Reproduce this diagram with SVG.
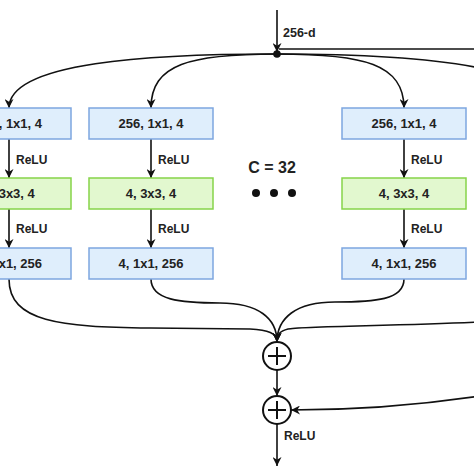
<svg xmlns="http://www.w3.org/2000/svg" width="474" height="474" viewBox="0 0 474 474">
<style>
.blue{fill:#dfeefc;stroke:#7ea6e0;stroke-width:1.5}
.green{fill:#e2f8cf;stroke:#86d44a;stroke-width:1.5}
.t{font-family:"Liberation Sans",Arial,sans-serif;font-weight:bold;font-size:13px;fill:#222;text-anchor:middle}
.l{font-family:"Liberation Sans",Arial,sans-serif;font-weight:bold;font-size:12px;fill:#222}
.c{fill:none;stroke:#111;stroke-width:1.6}
.op{fill:#fff;stroke:#111;stroke-width:2}
</style>
<defs>
<marker id="ah" viewBox="0 0 10 10" refX="10" refY="5" markerWidth="9" markerHeight="9" markerUnits="userSpaceOnUse" orient="auto">
<path d="M0,0 L10,5 L0,10 L3,5 Z" fill="#111"/>
</marker>
</defs>
<g id="connectors">
<path class="c" d="M277 10 V52" marker-end="url(#ah)"/>
<path class="c" d="M279 49 H480"/>
<path class="c" d="M277 54 C150 54 9 62 9 108" marker-end="url(#ah)"/>
<path class="c" d="M277 54 C190 54 151 64 151 108" marker-end="url(#ah)"/>
<path class="c" d="M277 54 C364 54 404 64 404 108" marker-end="url(#ah)"/>
<path class="c" d="M277 54 C360 54 430 58 480 68"/>
<path class="c" d="M9 139 V178" marker-end="url(#ah)"/>
<path class="c" d="M151 139 V178" marker-end="url(#ah)"/>
<path class="c" d="M404 139 V178" marker-end="url(#ah)"/>
<path class="c" d="M9 209 V248" marker-end="url(#ah)"/>
<path class="c" d="M151 209 V248" marker-end="url(#ah)"/>
<path class="c" d="M404 209 V248" marker-end="url(#ah)"/>
<path class="c" d="M9 279 C9 322 60 327 150 328 L250 329 C268 330 277 333 277 342" marker-end="url(#ah)"/>
<path class="c" d="M151 279 C151 300 180 303 220 303 C258 303 277 318 277 342" marker-end="url(#ah)"/>
<path class="c" d="M404 279 C404 300 375 302 335 302 C296 302 277 318 277 342" marker-end="url(#ah)"/>
<path class="c" d="M480 322 C400 326 300 326 288 329 C280 331 277 334 277 342"/>
<path class="c" d="M277 370 V396" marker-end="url(#ah)"/>
<path class="c" d="M480 396 C420 405 350 410 291 410" marker-end="url(#ah)"/>
<path class="c" d="M277 424 V466" marker-end="url(#ah)"/>
<circle cx="277" cy="54" r="3.8" fill="#111"/>
</g>
<text class="l" x="283" y="37" style="font-size:12.5px">256-d</text>
<g id="b1a"><rect class="blue" x="-52" y="108" width="123" height="31"/><text class="t" x="9.5" y="128">256, 1x1, 4</text></g>
<g id="b2a"><rect class="blue" x="89" y="108" width="124" height="31"/><text class="t" x="151" y="128">256, 1x1, 4</text></g>
<g id="b3a"><rect class="blue" x="342" y="108" width="124" height="31"/><text class="t" x="404" y="128">256, 1x1, 4</text></g>
<g id="b1b"><rect class="green" x="-52" y="178" width="123" height="31"/><text class="t" x="9.5" y="198">4, 3x3, 4</text></g>
<g id="b2b"><rect class="green" x="89" y="178" width="124" height="31"/><text class="t" x="151" y="198">4, 3x3, 4</text></g>
<g id="b3b"><rect class="green" x="342" y="178" width="124" height="31"/><text class="t" x="404" y="198">4, 3x3, 4</text></g>
<g id="b1c"><rect class="blue" x="-52" y="248" width="123" height="31"/><text class="t" x="9.5" y="268">4, 1x1, 256</text></g>
<g id="b2c"><rect class="blue" x="89" y="248" width="124" height="31"/><text class="t" x="151" y="268">4, 1x1, 256</text></g>
<g id="b3c"><rect class="blue" x="342" y="248" width="124" height="31"/><text class="t" x="404" y="268">4, 1x1, 256</text></g>
<g id="labels">
<text class="l" x="16" y="164">ReLU</text>
<text class="l" x="158" y="164">ReLU</text>
<text class="l" x="411" y="164">ReLU</text>
<text class="l" x="16" y="233">ReLU</text>
<text class="l" x="158" y="233">ReLU</text>
<text class="l" x="411" y="233">ReLU</text>
<text class="l" x="284" y="440">ReLU</text>
<text class="t" x="272" y="173" style="font-size:16px">C = 32</text>
<circle cx="256" cy="193" r="4" fill="#111"/>
<circle cx="274" cy="193" r="4" fill="#111"/>
<circle cx="292" cy="193" r="4" fill="#111"/>
</g>
<g id="add1"><circle class="op" cx="277" cy="356" r="14"/><path d="M268 356 H286 M277 347 V365" stroke="#111" stroke-width="2"/></g>
<g id="add2"><circle class="op" cx="277" cy="410" r="14"/><path d="M268 410 H286 M277 401 V419" stroke="#111" stroke-width="2"/></g>
</svg>
